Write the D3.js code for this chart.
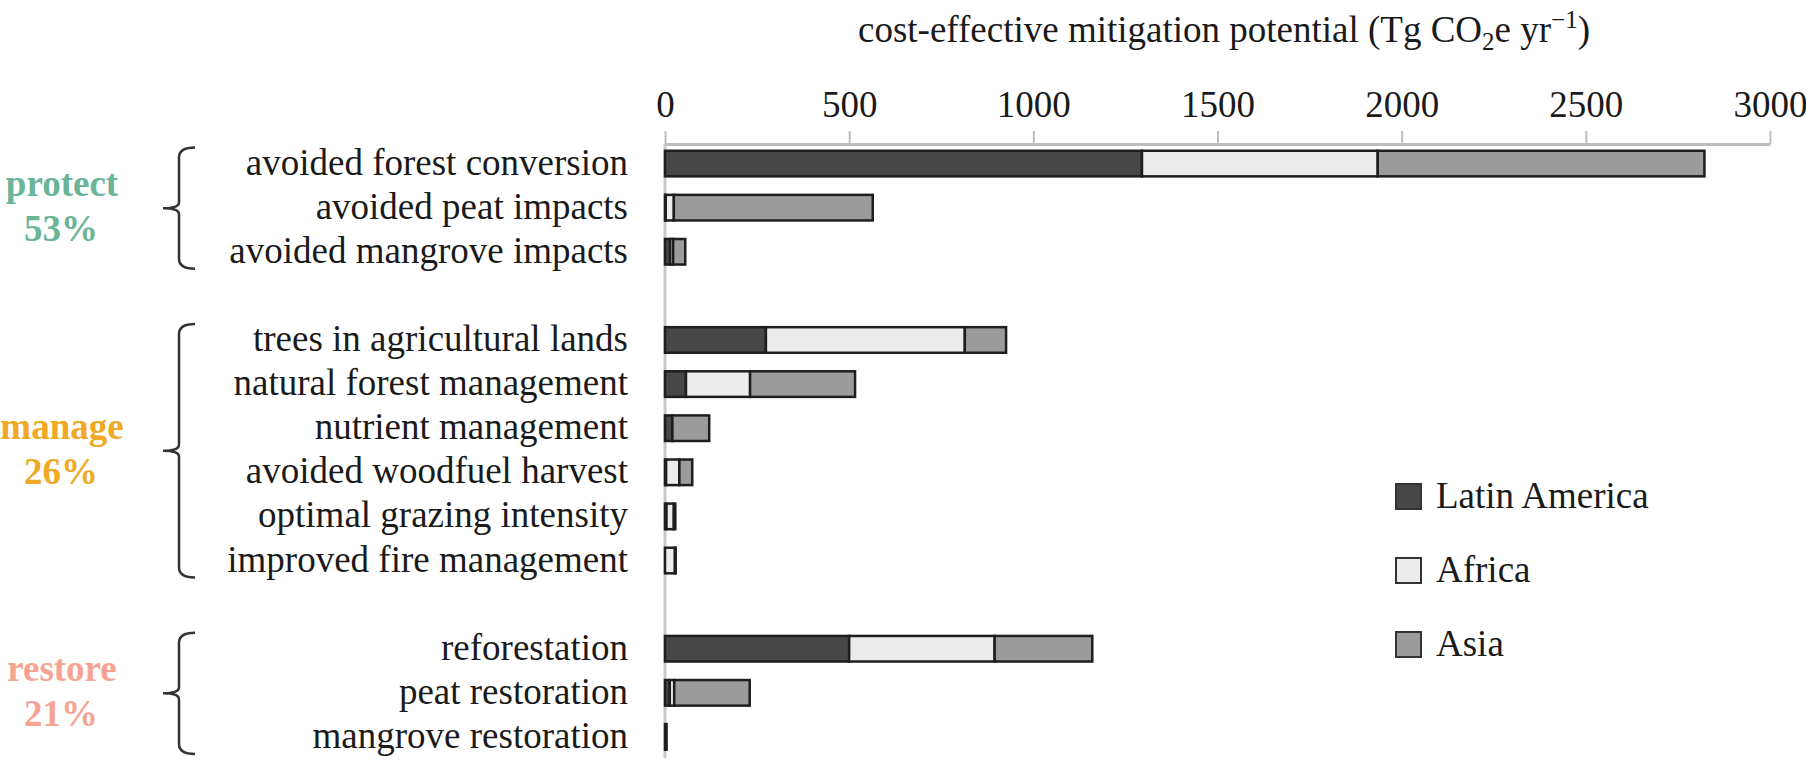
<!DOCTYPE html>
<html>
<head>
<meta charset="utf-8">
<script src="https://cdn.jsdelivr.net/npm/d3@7.9.0/dist/d3.min.js"></script>
<style>
  html, body { margin: 0; padding: 0; background: #fff; }
  svg { display: block; font-family: "Liberation Serif", "Times New Roman", serif; }
</style>
</head>
<body>
<svg id="chart" width="1806" height="760"></svg>
<script>
// rows, top to bottom ('' = spacer between groups)
const categories = [
  'avoided forest conversion', 'avoided peat impacts', 'avoided mangrove impacts', '',
  'trees in agricultural lands', 'natural forest management', 'nutrient management',
  'avoided woodfuel harvest', 'optimal grazing intensity', 'improved fire management', ' ',
  'reforestation', 'peat restoration', 'mangrove restoration'
];
const latinAmerica = [1295, 2, 14, 0, 274, 57, 20, 3, 4, 0, 0, 500, 13, 3];
const africa       = [640, 22, 8, 0, 540, 174, 0, 36, 20, 27, 0, 395, 12, 0];
const asia         = [887, 540, 33, 0, 112, 285, 100, 35, 4, 2, 0, 265, 205, 1];

const regions = ['Latin America', 'Africa', 'Asia'];
const regionColors = ['#474747', '#ececec', '#9b9b9b'];

const groupNames = ['protect', 'manage', 'restore'];
const groupShares = ['53%', '26%', '21%'];
const groupColors = ['#6ab597', '#efa927', '#f6a394'];
const groupRows = [[0, 2], [4, 9], [11, 13]];

const xTicks = [0, 500, 1000, 1500, 2000, 2500, 3000];

const svg = d3.select('#chart');
const FS = 37;

const x = d3.scaleLinear().domain([0, 3000]).range([665, 1770]);
const y = d3.scaleBand()
  .domain(d3.range(categories.length))
  .range([141.5, 759])
  .paddingInner(0.42)
  .paddingOuter(0.21);
const yc = i => y(i) + y.bandwidth() / 2;

// title
const title = svg.append('text')
  .attr('x', 1224).attr('y', 42)
  .attr('text-anchor', 'middle')
  .attr('font-size', FS).attr('fill', '#1a1a1a');
title.append('tspan').text('cost-effective mitigation potential (Tg CO');
title.append('tspan').attr('font-size', 25).attr('dy', 8).text('2');
title.append('tspan').attr('dy', -8).text('e yr');
title.append('tspan').attr('font-size', 25).attr('dy', -14).text('\u22121');
title.append('tspan').attr('dy', 14).text(')');

// top axis
const axisY = 144;
const axis = svg.append('g').attr('transform', `translate(0,${axisY})`)
  .call(d3.axisTop(x).tickValues(xTicks).tickSize(13).tickSizeOuter(0).tickFormat(d3.format('d')));
axis.select('.domain').attr('stroke', '#bdbdbd').attr('stroke-width', 3);
axis.selectAll('.tick line').attr('stroke', '#bdbdbd').attr('stroke-width', 2);
axis.selectAll('.tick text')
  .attr('font-size', FS).attr('font-family', '"Liberation Serif", serif')
  .attr('fill', '#1a1a1a').attr('y', -27).attr('dy', 0);

// zero line
svg.append('line')
  .attr('x1', x(0)).attr('x2', x(0))
  .attr('y1', axisY).attr('y2', 758)
  .attr('stroke', '#c8c8c8').attr('stroke-width', 3);

// stacked bars
const rows = categories.map((c, i) => ({ i, 'Latin America': latinAmerica[i], 'Africa': africa[i], 'Asia': asia[i] }));
const stacked = d3.stack().keys(regions)(rows);

stacked.forEach((layer, k) => {
  svg.append('g').selectAll('rect')
    .data(layer.filter(d => d[1] - d[0] > 0))
    .join('rect')
    .attr('x', d => x(d[0]))
    .attr('y', d => y(d.data.i))
    .attr('width', d => x(d[1]) - x(d[0]))
    .attr('height', y.bandwidth())
    .attr('fill', regionColors[k])
    .attr('stroke', '#1e1e1e')
    .attr('stroke-width', 2.5);
});

// category labels
svg.append('g').selectAll('text')
  .data(categories.map((c, i) => ({ c, i })).filter(d => d.c.trim() !== ''))
  .join('text')
  .attr('x', 628)
  .attr('y', d => yc(d.i) + 11)
  .attr('text-anchor', 'end')
  .attr('font-size', FS)
  .attr('fill', '#1a1a1a')
  .text(d => d.c);

// group brackets and labels
groupRows.forEach(([a, b], g) => {
  const t = yc(a) - 16, bt = yc(b) + 17, m = (t + bt) / 2;
  const vx = 179, tip = 163, arm = 195;
  svg.append('path')
    .attr('d', `M${arm},${t} Q${vx},${t} ${vx},${t + 10} L${vx},${m - 6} Q${vx},${m} ${tip},${m} Q${vx},${m} ${vx},${m + 6} L${vx},${bt - 10} Q${vx},${bt} ${arm},${bt}`)
    .attr('fill', 'none').attr('stroke', '#333').attr('stroke-width', 2.5);
  svg.append('text')
    .attr('x', 62).attr('y', m - 12)
    .attr('text-anchor', 'middle').attr('font-size', FS).attr('font-weight', 'bold')
    .attr('fill', groupColors[g]).text(groupNames[g]);
  svg.append('text')
    .attr('x', 61).attr('y', m + 33)
    .attr('text-anchor', 'middle').attr('font-size', FS).attr('font-weight', 'bold')
    .attr('fill', groupColors[g]).text(groupShares[g]);
});

// legend
const legend = svg.append('g').selectAll('g')
  .data(regions)
  .join('g')
  .attr('transform', (d, i) => `translate(1396,${484 + i * 74})`);
legend.append('rect')
  .attr('width', 25).attr('height', 25)
  .attr('fill', (d, i) => regionColors[i])
  .attr('stroke', '#333').attr('stroke-width', 2);
legend.append('text')
  .attr('x', 40).attr('y', 24)
  .attr('font-size', FS).attr('fill', '#1a1a1a')
  .text(d => d);
</script>
</body>
</html>
